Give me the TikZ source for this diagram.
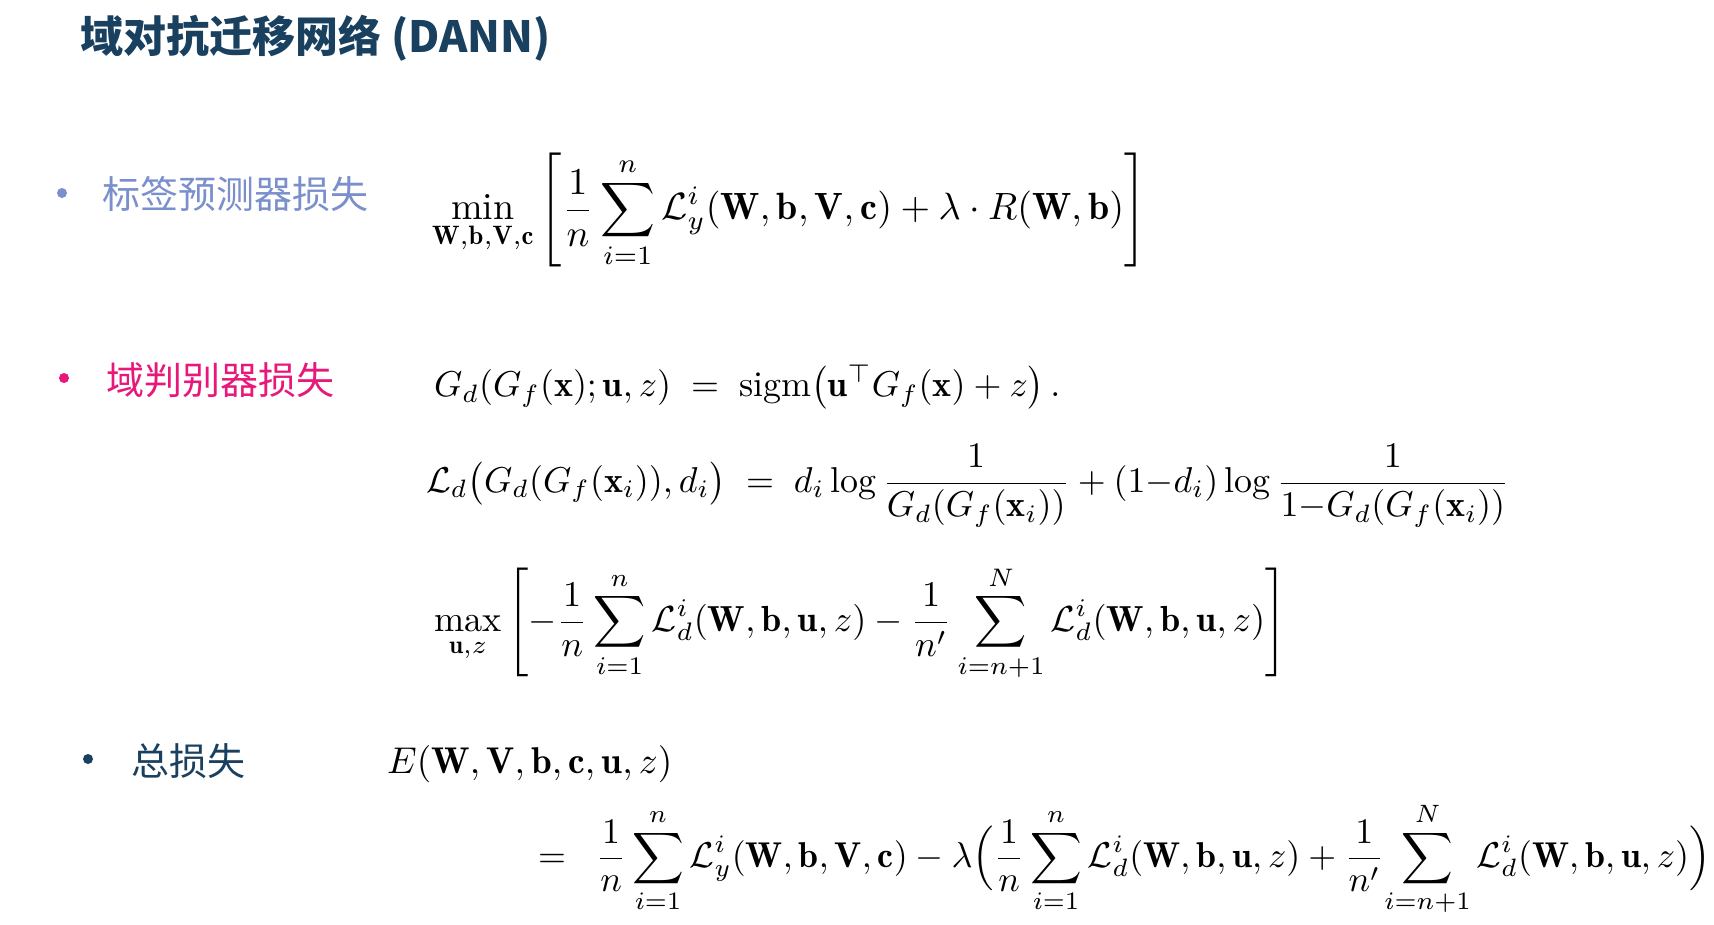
\documentclass[tikz,border=0pt]{standalone}
\usepackage{amsmath,amssymb}
\usepackage{graphicx}
\usepackage{fontspec}
\newfontfamily\cjk{Noto Sans CJK SC}
\newfontfamily\cjkb{Noto Sans CJK SC Black}
\definecolor{ttl}{HTML}{1A4060}
\definecolor{lbl}{HTML}{7A8FCC}
\definecolor{pnk}{HTML}{E8177A}
\begin{document}
\begin{tikzpicture}[x=1pt,y=-1pt,
  eq/.style={anchor=west,inner sep=0pt},
  bul/.style={circle,inner sep=0pt,minimum size=10pt}]
\useasboundingbox[fill=white] (0,0) rectangle (1714,925);
\node[anchor=west,inner sep=0pt,text=ttl,font=\cjkb\fontsize{43}{50}\selectfont] (title) at (80,38) {域对抗迁移网络 (DANN)};
\node[bul,fill=lbl] (b1) at (62,193) {};
\node[anchor=west,inner sep=0pt,text=lbl,font=\cjk\fontsize{38}{44}\selectfont] (t1) at (102,194) {标签预测器损失};
\node[bul,fill=pnk] (b2) at (64,378) {};
\node[anchor=west,inner sep=0pt,text=pnk,font=\cjk\fontsize{38}{44}\selectfont] (t2) at (106,380) {域判别器损失};
\node[bul,fill=ttl] (b3) at (88,759) {};
\node[anchor=west,inner sep=0pt,text=ttl,font=\cjk\fontsize{38}{44}\selectfont] (t3) at (131,761) {总损失};
\node[eq] (e1) at (432,211) {\resizebox{714pt}{!}{$\displaystyle\min_{\mathbf{W},\mathbf{b},\mathbf{V},\mathbf{c}} \left[\frac1n\sum_{i=1}^n \mathcal{L}_y^i(\mathbf{W},\mathbf{b},\mathbf{V},\mathbf{c}) + \lambda\cdot R(\mathbf{W},\mathbf{b})\right]$}};
\node[eq] (e2) at (434,387) {\resizebox{626pt}{!}{$\displaystyle G_d(G_f(\mathbf x);\mathbf u,z) \;=\; \mathrm{sigm}\bigl(\mathbf u^\top G_f(\mathbf x)+z\bigr)\,.$}};
\node[eq] (e3) at (426,486) {\resizebox{1083pt}{!}{$\displaystyle \mathcal L_d\bigl(G_d(G_f(\mathbf x_i)),d_i\bigr) \;=\; d_i\log\frac{1}{G_d(G_f(\mathbf x_i))} + (1{-}d_i)\log\frac{1}{1{-}G_d(G_f(\mathbf x_i))}$}};
\node[eq] (e4) at (434,623) {\resizebox{852pt}{!}{$\displaystyle \max_{\mathbf u,z}\left[-\frac1n\sum_{i=1}^n \mathcal L_d^i(\mathbf W,\mathbf b,\mathbf u,z) - \frac1{n'}\sum_{i=n+1}^N\mathcal L_d^i(\mathbf W,\mathbf b,\mathbf u,z)\right]$}};
\node[eq] (e5) at (387,764) {\resizebox{285pt}{!}{$E(\mathbf W,\mathbf V,\mathbf b,\mathbf c,\mathbf u,z)$}};
\node[eq] (e6) at (538,859) {\resizebox{1172pt}{!}{$\displaystyle =\;\;\frac1n\sum_{i=1}^n \mathcal L_y^i(\mathbf W,\mathbf b,\mathbf V,\mathbf c)-\lambda\Bigl(\frac1n\sum_{i=1}^n\mathcal L_d^i(\mathbf W,\mathbf b,\mathbf u,z) + \frac1{n'}\!\sum_{i=n+1}^N \mathcal L_d^i(\mathbf W,\mathbf b,\mathbf u,z)\Bigr)$}};
\end{tikzpicture}
\end{document}
